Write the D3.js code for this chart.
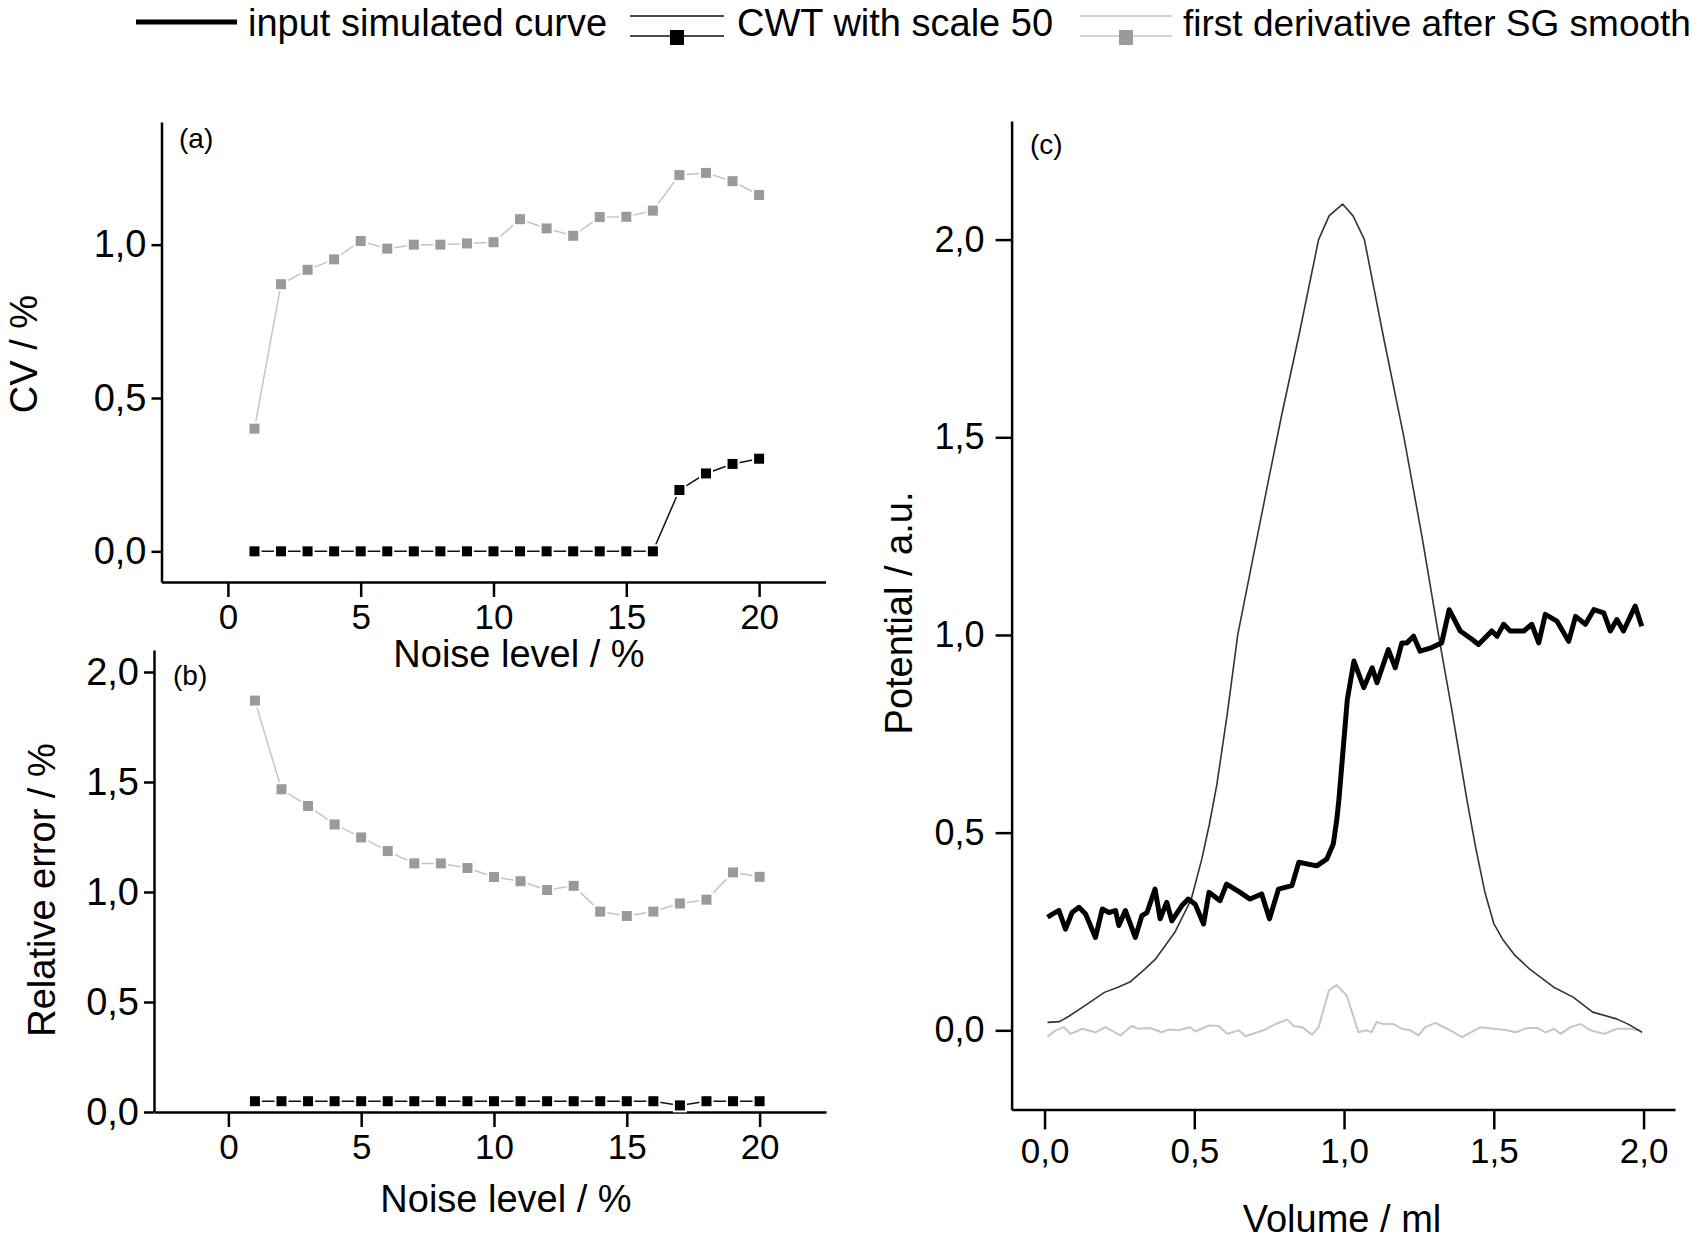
<!DOCTYPE html>
<html>
<head>
<meta charset="utf-8">
<script src="https://cdn.jsdelivr.net/npm/d3@7"></script>
<style>
  body { margin: 0; background: #fff; }
  text { font-family: Arial, "Liberation Sans", sans-serif; fill: #000; }
</style>
</head>
<body>
<svg id="chart" width="1702" height="1239"></svg>
<script>
// panels (a) and (b): noise level in %
const noiseLevels = [1, 2, 3, 4, 5, 6, 7, 8, 9, 10, 11, 12, 13, 14, 15, 16, 17, 18, 19, 20]
const cvSg = [0.40, 0.871, 0.918, 0.952, 1.012, 0.987, 1.0, 1.0, 1.004, 1.008, 1.083, 1.053, 1.029, 1.09, 1.091, 1.111, 1.227, 1.234, 1.207, 1.162]
const cvCwt = [0, 0, 0, 0, 0, 0, 0, 0, 0, 0, 0, 0, 0, 0, 0, 0, 0.20, 0.254, 0.285, 0.302]
const errSg = [1.87, 1.467, 1.391, 1.307, 1.248, 1.186, 1.13, 1.13, 1.109, 1.068, 1.049, 1.009, 1.028, 0.911, 0.891, 0.911, 0.948, 0.965, 1.089, 1.069]
const errCwt = [0.049, 0.049, 0.049, 0.049, 0.049, 0.049, 0.049, 0.049, 0.049, 0.049, 0.049, 0.049, 0.049, 0.049, 0.049, 0.049, 0.03, 0.049, 0.049, 0.049]

// panel (c): volume in ml, potential in a.u.
const inputVol = [0.01, 0.026, 0.048, 0.07, 0.092, 0.115, 0.137, 0.17, 0.193, 0.215, 0.237, 0.248, 0.27, 0.303, 0.325, 0.342, 0.369, 0.386, 0.408, 0.425, 0.458, 0.48, 0.503, 0.531, 0.549, 0.586, 0.608, 0.653, 0.686, 0.725, 0.751, 0.781, 0.826, 0.849, 0.909, 0.942, 0.964, 0.976, 0.983, 1.011, 1.033, 1.066, 1.094, 1.11, 1.148, 1.171, 1.193, 1.21, 1.232, 1.254, 1.293, 1.326, 1.351, 1.388, 1.427, 1.449, 1.493, 1.511, 1.533, 1.555, 1.6, 1.627, 1.65, 1.672, 1.711, 1.75, 1.773, 1.806, 1.834, 1.867, 1.889, 1.911, 1.933, 1.972, 1.994]
const inputPot = [0.286, 0.294, 0.303, 0.256, 0.298, 0.311, 0.294, 0.235, 0.307, 0.298, 0.303, 0.265, 0.303, 0.235, 0.29, 0.298, 0.357, 0.282, 0.324, 0.277, 0.315, 0.332, 0.319, 0.269, 0.349, 0.328, 0.37, 0.349, 0.332, 0.345, 0.282, 0.357, 0.366, 0.425, 0.416, 0.433, 0.471, 0.534, 0.585, 0.837, 0.934, 0.867, 0.917, 0.879, 0.963, 0.917, 0.98, 0.98, 0.997, 0.959, 0.968, 0.98, 1.064, 1.01, 0.989, 0.976, 1.01, 0.997, 1.027, 1.01, 1.01, 1.027, 0.98, 1.052, 1.035, 0.984, 1.047, 1.027, 1.064, 1.056, 1.01, 1.039, 1.01, 1.073, 1.022]

const cwtVol = [0.01, 0.05, 0.08, 0.13, 0.2, 0.245, 0.285, 0.335, 0.37, 0.435, 0.49, 0.525, 0.55, 0.575, 0.61, 0.645, 0.7, 0.75, 0.79, 0.85, 0.915, 0.95, 0.995, 1.03, 1.068, 1.13, 1.2, 1.26, 1.32, 1.36, 1.41, 1.44, 1.47, 1.5, 1.53, 1.57, 1.62, 1.7, 1.765, 1.83, 1.91, 1.95, 1.995]
const cwtPot = [0.02, 0.022, 0.035, 0.06, 0.096, 0.109, 0.122, 0.155, 0.18, 0.248, 0.332, 0.433, 0.52, 0.62, 0.8, 1.0, 1.21, 1.4, 1.55, 1.76, 2.0, 2.06, 2.09, 2.06, 2.0, 1.76, 1.5, 1.25, 0.98, 0.81, 0.584, 0.46, 0.35, 0.27, 0.23, 0.19, 0.155, 0.109, 0.084, 0.046, 0.029, 0.015, -0.005]

const sgVol = [0.009, 0.037, 0.064, 0.087, 0.126, 0.17, 0.203, 0.253, 0.291, 0.313, 0.352, 0.391, 0.413, 0.447, 0.487, 0.503, 0.548, 0.582, 0.61, 0.649, 0.671, 0.738, 0.771, 0.81, 0.832, 0.86, 0.893, 0.915, 0.949, 0.975, 1.009, 1.048, 1.076, 1.092, 1.109, 1.131, 1.165, 1.193, 1.221, 1.249, 1.271, 1.305, 1.344, 1.394, 1.456, 1.5, 1.545, 1.573, 1.612, 1.645, 1.673, 1.701, 1.723, 1.756, 1.79, 1.823, 1.868, 1.912, 1.957, 1.979]
const sgPot = [-0.017, 0.0, 0.008, -0.009, 0.004, -0.005, 0.008, -0.013, 0.011, 0.004, 0.006, -0.005, 0.002, 0.0, 0.008, -0.003, 0.012, 0.011, -0.009, 0.0, -0.015, 0.002, 0.016, 0.027, 0.011, 0.008, -0.011, 0.008, 0.1, 0.115, 0.088, -0.005, 0.0, -0.005, 0.021, 0.016, 0.016, 0.004, 0.0, -0.013, 0.008, 0.019, 0.004, -0.017, 0.008, 0.004, 0.0, -0.005, 0.006, 0.006, -0.005, 0.004, -0.009, 0.008, 0.016, 0.0, -0.009, 0.004, 0.004, 0.0]

const noiseTicks = [0, 5, 10, 15, 20]
const potTicks = [0, 0.5, 1.0, 1.5, 2.0]

const svg = d3.select('#chart')
const comma = (d) => d3.format('.1f')(d).replace('.', ',')

function styleAxis(g, fontSize) {
  g.attr('font-size', null).attr('font-family', null)
  g.select('.domain').attr('stroke', '#000').attr('stroke-width', 2.5)
  g.selectAll('.tick line').attr('stroke', '#000').attr('stroke-width', 2.5)
  g.selectAll('.tick text').style('font-size', fontSize + 'px')
}

function drawAxes(x, y, o) {
  const xAxis = d3.axisBottom(x).tickValues(o.xTicks).tickFormat(o.xFormat)
    .tickSizeInner(o.xTick).tickSizeOuter(0).tickPadding(o.xPad)
  const yAxis = d3.axisLeft(y).tickValues(o.yTicks).tickFormat(comma)
    .tickSizeInner(o.yTick).tickSizeOuter(0).tickPadding(o.yPad)
  svg.append('g')
    .attr('transform', `translate(0,${y.range()[0]})`)
    .call(xAxis)
    .call((g) => styleAxis(g, o.xFont))
  svg.append('g')
    .attr('transform', `translate(${x.range()[0]},0)`)
    .call(yAxis)
    .call((g) => styleAxis(g, o.yFont))
}

function markerSeries(x, y, values, lineColor, fillColor) {
  const pts = noiseLevels.map((n, i) => [n, values[i]])
  svg.append('path')
    .datum(pts)
    .attr('fill', 'none')
    .attr('stroke', lineColor)
    .attr('stroke-width', 1.5)
    .attr('d', d3.line().x((d) => x(d[0])).y((d) => y(d[1])))
  svg.append('g')
    .selectAll('rect')
    .data(pts)
    .join('rect')
    .attr('x', (d) => x(d[0]) - 5)
    .attr('y', (d) => y(d[1]) - 5)
    .attr('width', 10)
    .attr('height', 10)
    .attr('fill', fillColor)
    .attr('stroke', '#fff')
    .attr('stroke-width', 4)
    .attr('paint-order', 'stroke')
}

function label(txt, x, y, size, anchor, rotate) {
  const t = svg.append('text')
    .attr('text-anchor', anchor)
    .style('font-size', size + 'px')
    .text(txt)
  if (rotate) t.attr('transform', `translate(${x},${y}) rotate(-90)`)
  else t.attr('x', x).attr('y', y)
}

// ---- panel (a)
const xa = d3.scaleLinear().domain([-2.5, 22.5]).range([161.5, 825.5])
const ya = d3.scaleLinear().domain([-0.1, 1.4]).range([582, 122])
drawAxes(xa, ya, { xTicks: noiseTicks, yTicks: [0, 0.5, 1.0], xFormat: d3.format('d'),
  xTick: 15, xPad: 7, yTick: 10, yPad: 5, xFont: 35, yFont: 38 })
markerSeries(xa, ya, cvSg, '#c4c4c4', '#9a9a9a')
markerSeries(xa, ya, cvCwt, '#111', '#000')
label('(a)', 179, 148, 28, 'start')
label('Noise level / %', 519, 667, 38, 'middle')
label('CV / %', 37, 354, 38, 'middle', true)

// ---- panel (b)
const xb = d3.scaleLinear().domain([-2.8, 22.5]).range([154, 826])
const yb = d3.scaleLinear().domain([0, 2.1]).range([1112, 650])
drawAxes(xb, yb, { xTicks: noiseTicks, yTicks: potTicks, xFormat: d3.format('d'),
  xTick: 15, xPad: 7, yTick: 10, yPad: 5, xFont: 35, yFont: 38 })
markerSeries(xb, yb, errSg, '#c4c4c4', '#9a9a9a')
markerSeries(xb, yb, errCwt, '#111', '#000')
label('(b)', 173, 685, 28, 'start')
label('Noise level / %', 506, 1212, 38, 'middle')
label('Relative error / %', 55, 890, 38, 'middle', true)

// ---- panel (c)
const xc = d3.scaleLinear().domain([-0.11, 2.105]).range([1011.6, 1675])
const yc = d3.scaleLinear().domain([-0.2, 2.3]).range([1109.4, 121])
drawAxes(xc, yc, { xTicks: potTicks, yTicks: potTicks, xFormat: comma,
  xTick: 20, xPad: 9, yTick: 16, yPad: 11, xFont: 35, yFont: 36 })

const curve = (vol, pot, color, width) => {
  svg.append('path')
    .datum(vol.map((v, i) => [v, pot[i]]))
    .attr('fill', 'none')
    .attr('stroke', color)
    .attr('stroke-width', width)
    .attr('stroke-linejoin', 'round')
    .attr('d', d3.line().x((d) => xc(d[0])).y((d) => yc(d[1])))
}
curve(sgVol, sgPot, '#c6c6c6', 2)
curve(cwtVol, cwtPot, '#333', 1.6)
curve(inputVol, inputPot, '#000', 5)

label('(c)', 1030, 154, 28, 'start')
label('Volume / ml', 1342, 1232, 38, 'middle')
label('Potential / a.u.', 912, 613, 38, 'middle', true)

// ---- legend
const lg = svg.append('g')
lg.append('line').attr('x1', 136).attr('x2', 237).attr('y1', 22).attr('y2', 22)
  .attr('stroke', '#000').attr('stroke-width', 5)
lg.append('text').attr('x', 248).attr('y', 36).style('font-size', '38px').text('input simulated curve')

const legendMarker = (x0, x1, lineColor, fillColor, txt, tx, size) => {
  [16, 36].forEach((yy) => {
    lg.append('line').attr('x1', x0).attr('x2', x1).attr('y1', yy).attr('y2', yy)
      .attr('stroke', lineColor).attr('stroke-width', 1.6)
  })
  const cx = (x0 + x1) / 2
  lg.append('rect').attr('x', cx - 7).attr('y', 30).attr('width', 14).attr('height', 15)
    .attr('fill', fillColor)
  lg.append('text').attr('x', tx).attr('y', 36).style('font-size', size + 'px').text(txt)
}
legendMarker(630, 724, '#111', '#000', 'CWT with scale 50', 737, 38)
legendMarker(1080, 1172, '#c4c4c4', '#9a9a9a', 'first derivative after SG smooth', 1183, 37)
</script>
</body>
</html>
